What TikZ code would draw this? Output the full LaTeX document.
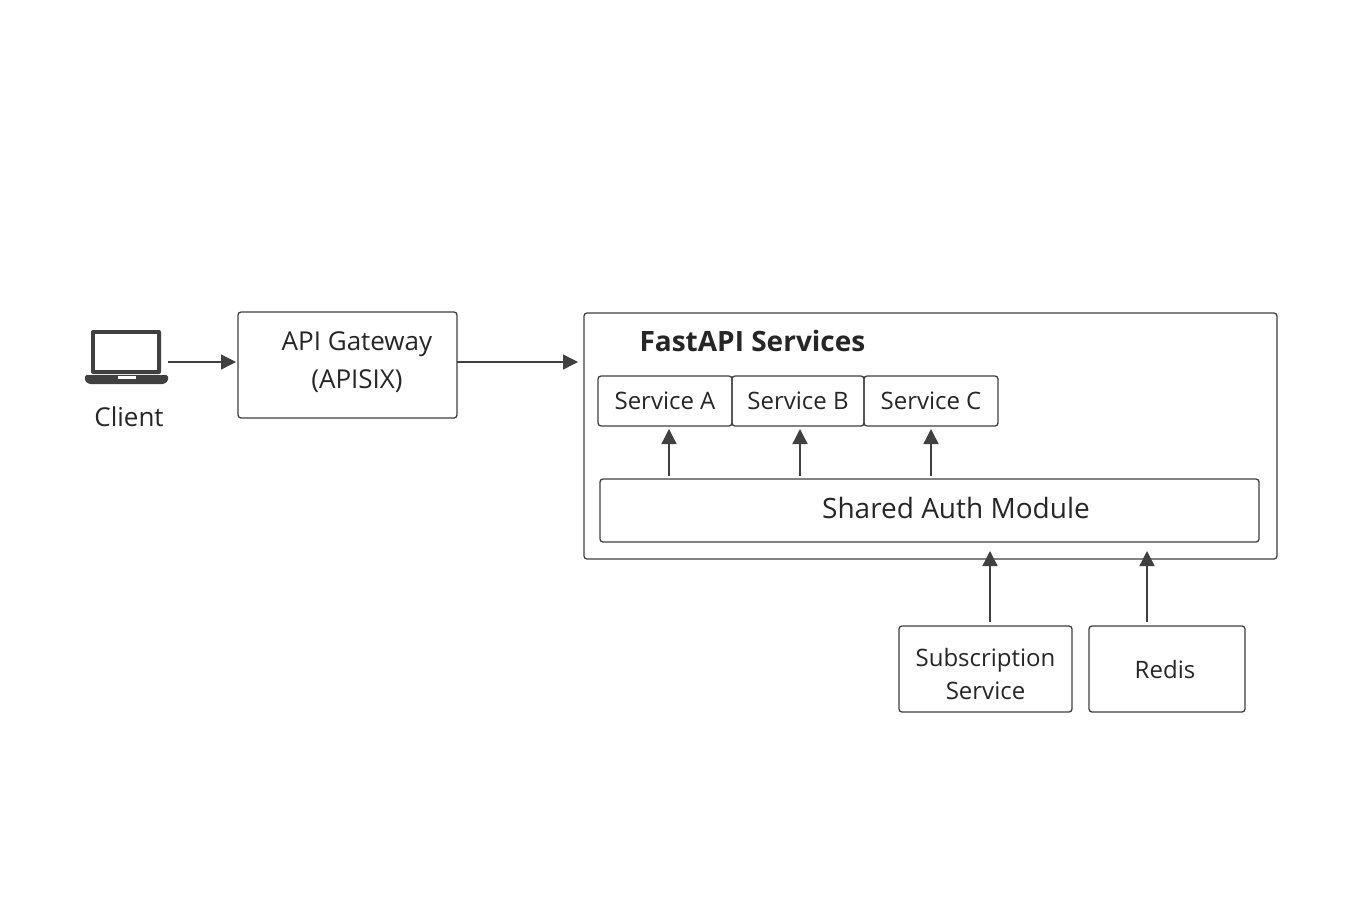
\documentclass[tikz,border=0pt]{standalone}
\usepackage{fontspec}
\setmainfont{Open Sans}
\usetikzlibrary{arrows.meta}
\begin{document}
\begin{tikzpicture}[x=1pt,y=-1pt,
  box/.style={draw=black!75,line width=1.3pt,rounded corners=3pt},
  arr/.style={draw=black!75,line width=1.4pt,-{Triangle[length=15pt,width=15pt]}},
  lbl/.style={text=black!85,font=\fontsize{24}{28}\selectfont,align=center}]
\useasboundingbox[fill=white] (0,0) rectangle (1358,905);
% laptop
\fill[black!75,rounded corners=2pt] (91,330) rectangle (161,374);
\fill[white] (95,334) rectangle (157,370);
\fill[black!75,rounded corners=1.5pt] (85,375) -- (168,375) -- (168,381) -- (164,384) -- (89,384) -- (85,381) -- cycle;
\fill[white] (118,376) rectangle (136,378.5);
\coordinate (clientR) at (168,362);
\coordinate (gwR) at (457,362);
\node[lbl,font=\fontsize{26}{30}\selectfont] (client) at (129,417) {Client};
\node[box,minimum width=219pt,minimum height=106pt] (gw) at (347.5,365) {};
\node[lbl,font=\fontsize{26}{38}\selectfont] (gwt) at (357,362) {API Gateway\\(APISIX)};
\node[box,minimum width=693pt,minimum height=246pt] (fa) at (930.5,436) {};
\node[lbl,font=\fontsize{28}{32}\selectfont\bfseries,anchor=west] (fat) at (636,341) {FastAPI Services};
\node[box,minimum width=134pt,minimum height=50pt] (sa) at (665,401) {};
\node[box,minimum width=132pt,minimum height=50pt] (sb) at (798,401) {};
\node[box,minimum width=134pt,minimum height=50pt] (sc) at (931,401) {};
\node[lbl] at (665,401) {Service A};
\node[lbl] at (798,401) {Service B};
\node[lbl] at (931,401) {Service C};
\node[box,minimum width=659pt,minimum height=63pt] (auth) at (929.5,510.5) {};
\node[lbl,font=\fontsize{28}{32}\selectfont] at (956,508) {Shared Auth Module};
\node[box,minimum width=173pt,minimum height=86pt] (sub) at (985.5,669) {};
\node[lbl,font=\fontsize{24}{33}\selectfont] at (985.5,674) {Subscription\\Service};
\node[box,minimum width=156pt,minimum height=86pt] (redis) at (1167,669) {};
\node[lbl] at (1165,669) {Redis};
\draw[arr] (clientR) -- (236,362);
\draw[arr] (gwR) -- (578,362);
\draw[arr] (669,476) -- (669,429);
\draw[arr] (800,476) -- (800,429);
\draw[arr] (931,476) -- (931,429);
\draw[arr] (990,622) -- (990,551);
\draw[arr] (1147,622) -- (1147,551);
\end{tikzpicture}
\end{document}
